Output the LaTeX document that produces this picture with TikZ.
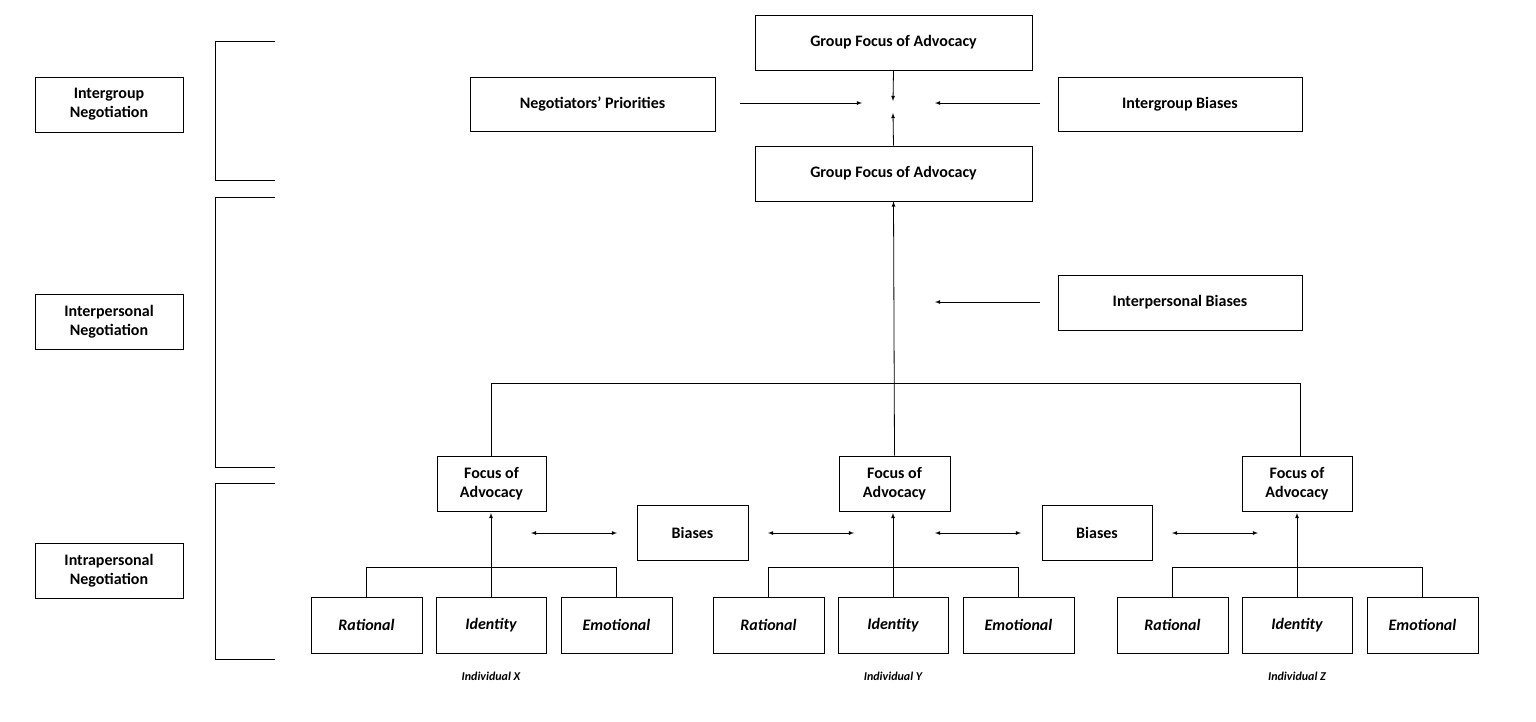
\documentclass[tikz,border=0pt]{standalone}
\usepackage{fontspec}
\setmainfont{Carlito}
\begin{document}
\begin{tikzpicture}[x=1pt,y=-1pt,
 bx/.style={draw,line width=0.8pt,font=\fontsize{16}{19}\selectfont\bfseries,align=center,inner sep=0pt},
 ln/.style={line width=0.8pt},
 ar/.style={line width=0.8pt,-latex},
 dar/.style={line width=0.8pt,latex-latex}]
\useasboundingbox (0,0) rectangle (1536,721);
\newcommand\bxat[6]{\node[bx,minimum width=#3-#2,minimum height=#5-#4] (#1) at ({(#2+#3)/2},{(#4+#5)/2}) {#6};}
\bxat{l1}{35}{183}{77}{132}{Intergroup\\Negotiation}
\bxat{l2}{35}{183}{294}{349}{Interpersonal\\Negotiation}
\bxat{l3}{35}{183}{543}{598}{Intrapersonal\\Negotiation}
\draw[ln] (275,41)--(215,41)--(215,180)--(275,180);
\draw[ln] (275,197)--(215,197)--(215,467)--(275,467);
\draw[ln] (275,483)--(215,483)--(215,659)--(275,659);
\bxat{g1}{755}{1032}{15}{70}{Group Focus of Advocacy}
\bxat{np}{470}{715}{77}{131}{Negotiators’ Priorities}
\bxat{ib}{1058}{1302}{77}{131}{Intergroup Biases}
\bxat{g2}{755}{1032}{146}{201}{Group Focus of Advocacy}
\bxat{pb}{1058}{1302}{275}{330}{Interpersonal Biases}
\coordinate (c1) at (893,101);
\coordinate (c2) at (893,113);
\coordinate (cl) at (862,103);
\coordinate (cr) at (935,103);
\coordinate (al) at (740,103);
\coordinate (ar1) at (1040,103);
\draw[ar] (g1.south)--(c1);
\draw[ar] (g2.north)--(c2);
\draw[ar] (al)--(cl);
\draw[ar] (ar1)--(cr);
\coordinate (pa) at (1040,302);
\coordinate (pc) at (935,302);
\draw[ar] (pa)--(pc);
\bxat{fx}{437}{546}{456}{511}{Focus of\\Advocacy}
\bxat{fy}{839}{950}{456}{511}{Focus of\\Advocacy}
\bxat{fz}{1242}{1352}{456}{511}{Focus of\\Advocacy}
\draw[ln] (491,456)--(491,383)--(1300,383)--(1300,456);
\draw[ar] (fy.north)--(g2.south);
\bxat{b1}{637}{748}{505}{560}{Biases}
\bxat{b2}{1042}{1152}{505}{560}{Biases}
\foreach \a/\b in {531/617,768/854,935/1021,1172/1258}{
 \coordinate (d1\a) at (\a,533); \coordinate (d2\a) at (\b,533);
 \draw[dar] (d1\a)--(d2\a);}
\foreach \n/\c/\lab in {x/491/X,y/893/Y,z/1297/Z}{
 \pgfmathsetmacro\xa{\c-180}\pgfmathsetmacro\xb{\c-69}
 \pgfmathsetmacro\xc{\c-55}\pgfmathsetmacro\xd{\c+55}
 \pgfmathsetmacro\xe{\c+70}\pgfmathsetmacro\xf{\c+181}
 \bxat{r\n}{\xa}{\xb}{597}{653}{\itshape Rational}
 \bxat{i\n}{\xc}{\xd}{597}{653}{\itshape Identity}
 \bxat{e\n}{\xe}{\xf}{597}{653}{\itshape Emotional}
 \draw[ln] (r\n.north)--++(0,-29)-|(e\n.north);
 \coordinate (t\n) at (\c,513);
 \draw[ar] (i\n.north)--(t\n);
 \node[font=\fontsize{12}{14}\selectfont\bfseries\itshape] (lab\n) at (\c,676) {Individual \lab};
}
\end{tikzpicture}
\end{document}
